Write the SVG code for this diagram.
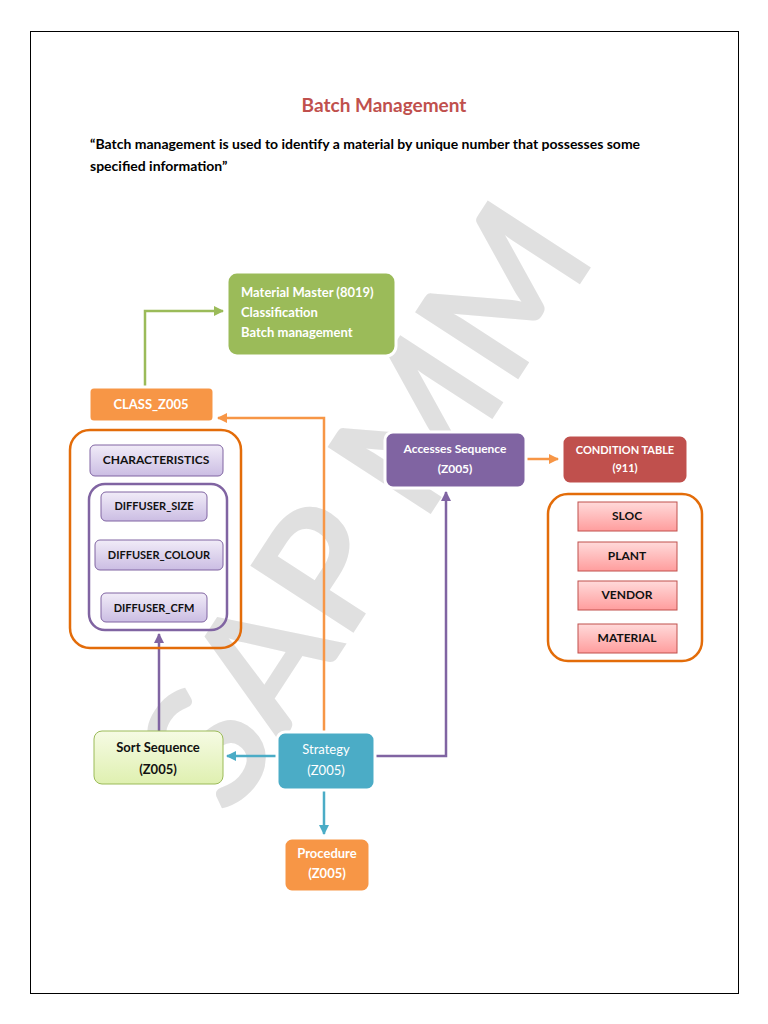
<svg xmlns="http://www.w3.org/2000/svg" width="768" height="1024" viewBox="0 0 768 1024">
<defs>
<style>
text{font-family:Lato,"Open Sans","Liberation Sans",sans-serif;font-weight:bold}
.w{fill:#fff;font-size:13px}
.k{fill:#111;font-size:12px;text-anchor:middle}
.c{text-anchor:middle}
.box{stroke:#fff;stroke-width:3}
.ln{fill:none;stroke-width:2.5}
</style>
<linearGradient id="lav" x1="0" y1="0" x2="0" y2="1"><stop offset="0" stop-color="#f1ecf8"/><stop offset="1" stop-color="#cbbde3"/></linearGradient>
<linearGradient id="pink" x1="0" y1="0" x2="0" y2="1"><stop offset="0" stop-color="#ffdada"/><stop offset="1" stop-color="#ff9d9d"/></linearGradient>
<linearGradient id="lg" x1="0" y1="0" x2="0" y2="1"><stop offset="0" stop-color="#f6fbe4"/><stop offset="1" stop-color="#dff0b0"/></linearGradient>
<marker id="ag" viewBox="0 0 10 10" refX="9" refY="5" markerWidth="4" markerHeight="4" orient="auto"><path d="M0,0L10,5L0,10z" fill="#9bbb59"/></marker>
<marker id="ao" viewBox="0 0 10 10" refX="9" refY="5" markerWidth="4" markerHeight="4" orient="auto"><path d="M0,0L10,5L0,10z" fill="#f79646"/></marker>
<marker id="ap" viewBox="0 0 10 10" refX="9" refY="5" markerWidth="4" markerHeight="4" orient="auto"><path d="M0,0L10,5L0,10z" fill="#8064a2"/></marker>
<marker id="at" viewBox="0 0 10 10" refX="9" refY="5" markerWidth="4" markerHeight="4" orient="auto"><path d="M0,0L10,5L0,10z" fill="#4bacc6"/></marker>
</defs>
<rect width="768" height="1024" fill="#fff"/>
<rect x="30.5" y="31.5" width="708" height="962" fill="none" stroke="#000" stroke-width="1"/>
<text x="365" y="565" transform="rotate(-57 365 505)" text-anchor="middle" style="font-size:170px;font-weight:bold;fill:#e0e0e0">SAP MM</text>
<text x="384" y="112" class="c" style="font-size:19px;fill:#c0504d">Batch Management</text>
<text x="90" y="149" style="font-size:14px;fill:#000">“Batch management is used to identify a material by unique number that possesses some</text>
<text x="90" y="171" style="font-size:14px;fill:#000">specified information”</text>
<g id="connectors">
<path class="ln" stroke="#9bbb59" d="M145,387V311H223" marker-end="url(#ag)"/>
<path class="ln" stroke="#f79646" d="M324,732V418H218" marker-end="url(#ao)"/>
<path class="ln" stroke="#8064a2" d="M159,731V634" marker-end="url(#ap)"/>
<path class="ln" stroke="#8064a2" d="M375,756H446V492" marker-end="url(#ap)"/>
<path class="ln" stroke="#f79646" d="M527,459H558" marker-end="url(#ao)"/>
<path class="ln" stroke="#4bacc6" d="M277,756H227" marker-end="url(#at)"/>
<path class="ln" stroke="#4bacc6" d="M324,791V834" marker-end="url(#at)"/>
</g>
<g id="material-master"><rect class="box" x="227" y="272" width="169" height="84" rx="10" fill="#9bbb59"/>
<text class="w" x="241" y="297">Material Master (8019)</text><text class="w" x="241" y="317">Classification</text><text class="w" x="241" y="337">Batch management</text></g>
<g id="class"><rect class="box" x="89" y="387" width="125" height="35" rx="5" fill="#f79646"/><text class="w c" x="151" y="409">CLASS_Z005</text></g>
<g id="char-group"><rect x="70" y="430" width="171" height="218" rx="20" fill="none" stroke="#e36c09" stroke-width="2.5"/></g>
<g id="characteristics"><rect x="90" y="445" width="133" height="31" rx="5" fill="url(#lav)" stroke="#8064a2"/><text class="k" x="156" y="464">CHARACTERISTICS</text></g>
<g id="diff-group"><rect x="89" y="484" width="138" height="146" rx="16" fill="none" stroke="#8064a2" stroke-width="2.5"/></g>
<g id="diffuser-size"><rect x="101" y="492" width="106" height="29" rx="5" fill="url(#lav)" stroke="#8064a2"/><text class="k" x="154" y="510" style="font-size:11px">DIFFUSER_SIZE</text></g>
<g id="diffuser-colour"><rect x="95" y="540" width="128" height="30" rx="5" fill="url(#lav)" stroke="#8064a2"/><text class="k" x="159" y="559" style="font-size:11px">DIFFUSER_COLOUR</text></g>
<g id="diffuser-cfm"><rect x="101" y="593" width="106" height="29" rx="5" fill="url(#lav)" stroke="#8064a2"/><text class="k" x="154" y="612" style="font-size:11px">DIFFUSER_CFM</text></g>
<g id="access"><rect class="box" x="385" y="432" width="141" height="56" rx="8" fill="#8064a2"/><text class="w c" x="455" y="453" style="font-size:12px">Accesses Sequence</text><text class="w c" x="455" y="473" style="font-size:12px">(Z005)</text></g>
<g id="condition"><rect class="box" x="562" y="435" width="126" height="49" rx="8" fill="#c0504d"/><text class="w c" x="625" y="454" style="font-size:11px">CONDITION TABLE</text><text class="w c" x="625" y="472" style="font-size:11px">(911)</text></g>
<g id="cond-group"><rect x="548" y="494" width="154" height="167" rx="20" fill="none" stroke="#e36c09" stroke-width="2.5"/></g>
<g id="sloc"><rect x="578" y="502" width="99" height="29" fill="url(#pink)" stroke="#c0504d"/><text class="k" x="627" y="520">SLOC</text></g>
<g id="plant"><rect x="578" y="542" width="99" height="29" fill="url(#pink)" stroke="#c0504d"/><text class="k" x="627" y="560">PLANT</text></g>
<g id="vendor"><rect x="578" y="581" width="99" height="29" fill="url(#pink)" stroke="#c0504d"/><text class="k" x="627" y="599">VENDOR</text></g>
<g id="material"><rect x="578" y="624" width="99" height="29" fill="url(#pink)" stroke="#c0504d"/><text class="k" x="627" y="642">MATERIAL</text></g>
<g id="sort"><rect x="94" y="731" width="129" height="53" rx="8" fill="url(#lg)" stroke="#9bbb59"/><text class="k" x="158" y="752" style="font-size:13px">Sort Sequence</text><text class="k" x="158" y="774" style="font-size:13px">(Z005)</text></g>
<g id="strategy"><rect class="box" x="277" y="732" width="98" height="58" rx="8" fill="#4bacc6"/><text class="c" x="326" y="754" style="fill:#fff;font-size:13px;font-weight:normal">Strategy</text><text class="c" x="326" y="775" style="fill:#fff;font-size:13px;font-weight:normal">(Z005)</text></g>
<g id="procedure"><rect class="box" x="284" y="838" width="86" height="54" rx="8" fill="#f79646"/><text class="w c" x="327" y="858">Procedure</text><text class="w c" x="327" y="878">(Z005)</text></g>
</svg>
